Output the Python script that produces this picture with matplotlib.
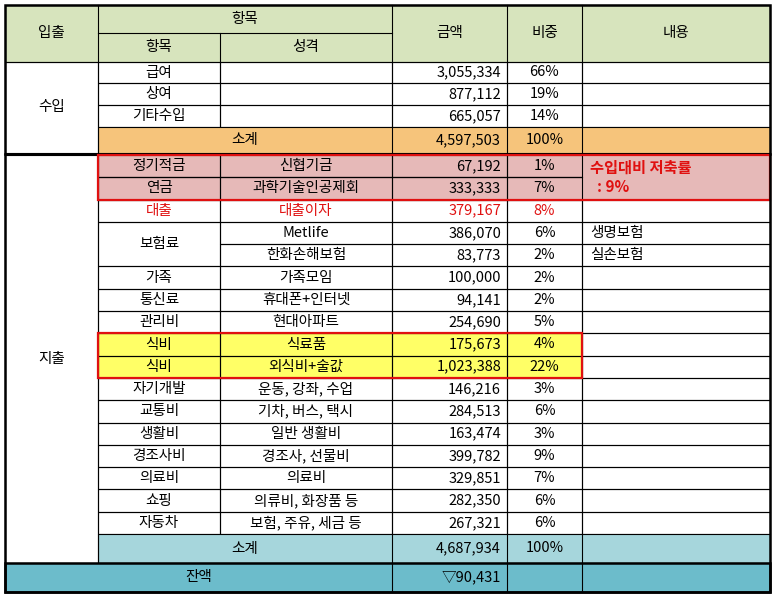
import matplotlib
matplotlib.use("Agg")
import matplotlib.pyplot as plt
from matplotlib.patches import Rectangle

plt.rcParams["font.family"] = ["Noto Sans CJK KR", "Noto Sans CJK JP", "Noto Sans CJK SC", "DejaVu Sans"]

income_items = ["급여", "상여", "기타수입"]
income_amounts = ["3,055,334", "877,112", "665,057"]
income_shares = ["66%", "19%", "14%"]
income_total = ["4,597,503", "100%"]

exp_items = ["정기적금", "연금", "대출", "보험료", None, "가족", "통신료", "관리비", "식비", "식비",
             "자기개발", "교통비", "생활비", "경조사비", "의료비", "쇼핑", "자동차"]
exp_kinds = ["신협기금", "과학기술인공제회", "대출이자", "Metlife", "한화손해보험", "가족모임",
             "휴대폰+인터넷", "현대아파트", "식료품", "외식비+술값", "운동, 강좌, 수업",
             "기차, 버스, 택시", "일반 생활비", "경조사, 선물비", "의료비", "의류비, 화장품 등",
             "보험, 주유, 세금 등"]
exp_amounts = ["67,192", "333,333", "379,167", "386,070", "83,773", "100,000", "94,141",
               "254,690", "175,673", "1,023,388", "146,216", "284,513", "163,474", "399,782",
               "329,851", "282,350", "267,321"]
exp_shares = ["1%", "7%", "8%", "6%", "2%", "2%", "2%", "5%", "4%", "22%", "3%", "6%", "3%",
              "9%", "7%", "6%", "6%"]
exp_notes = {3: "생명보험", 4: "실손보험"}
exp_total = ["4,687,934", "100%"]
balance = "▽90,431"
saving_note = "수입대비 저축률\n  : 9%"

# layout
X = [5, 98, 220, 392, 507, 582, 770]
GREEN, ORANGE, PINK, YELLOW = "#d7e4bd", "#f6c47b", "#e6b9b8", "#ffff66"
TEAL_L, TEAL_D, RED = "#a6d6dc", "#6cbccb", "#e01010"

fig = plt.figure(figsize=(7.77, 5.96), dpi=100)
ax = fig.add_axes([0, 0, 1, 1])
ax.set_xlim(0, 777); ax.set_ylim(596, 0); ax.axis("off")

def rect(x0, y0, x1, y1, fc="none", ec="black", lw=0.8, z=1):
    ax.add_patch(Rectangle((x0, y0), x1 - x0, y1 - y0, facecolor=fc, edgecolor=ec, lw=lw, zorder=z))

def txt(x, y, s, ha="center", color="black", size=10.5, **kw):
    ax.text(x, y, s, ha=ha, va="center", color=color, fontsize=size, zorder=5, **kw)

def cx(i, j=None):
    return (X[i] + X[j if j is not None else i + 1]) / 2

# header
rect(X[0], 5, X[6], 62, fc=GREEN, lw=0.8)
for i in [1, 3, 4, 5]:
    ax.plot([X[i], X[i]], [5, 62], color="black", lw=0.8)
ax.plot([X[1], X[3]], [33, 33], color="black", lw=0.8)
ax.plot([X[2], X[2]], [33, 62], color="black", lw=0.8)
txt(cx(0), 33, "입출"); txt(cx(1, 3), 19, "항목"); txt(cx(1), 47, "항목"); txt(cx(2), 47, "성격")
txt(cx(3), 33, "금액"); txt(cx(4), 33, "비중"); txt(cx(5), 33, "내용")

# income
iy = [62, 83, 105, 127, 153]
for r in range(3):
    y0, y1 = iy[r], iy[r + 1]
    for i in range(1, 6):
        rect(X[i], y0, X[i + 1], y1)
    ym = (y0 + y1) / 2
    txt(cx(1), ym, income_items[r]); txt(X[4] - 6, ym, income_amounts[r], ha="right")
    txt(cx(4), ym, income_shares[r])
rect(X[1], iy[3], X[6], iy[4], fc=ORANGE)
for i in [3, 4, 5]:
    ax.plot([X[i], X[i]], [iy[3], iy[4]], color="black", lw=0.8)
ym = (iy[3] + iy[4]) / 2
txt(cx(1, 3), ym, "소계"); txt(X[4] - 6, ym, income_total[0], ha="right"); txt(cx(4), ym, income_total[1])
rect(X[0], iy[0], X[1], iy[4])
txt(cx(0), (iy[0] + iy[4]) / 2, "수입")

# expenses
y_start, rh = 155, (534 - 155) / 17
ey = [y_start + k * rh for k in range(18)]
for r in range(17):
    y0, y1 = ey[r], ey[r + 1]
    ym = (y0 + y1) / 2
    fc = PINK if r in (0, 1) else YELLOW if r in (8, 9) else "white"
    x_end = X[6] if r in (0, 1) else X[5]
    rect(X[1], y0, x_end, y1, fc=fc, ec="none", z=0)
    for i in [2, 3, 4]:
        rect(X[i], y0, X[i + 1], y1)
    if r not in (0, 1):
        rect(X[5], y0, X[6], y1)
    if r != 4:
        rect(X[1], y0, X[2], y1 if r != 3 else ey[5])
    color = RED if r == 2 else "black"
    if exp_items[r]:
        yy = ym if r != 3 else ey[4]
        txt(cx(1), yy, exp_items[r], color=color)
    txt(cx(2), ym, exp_kinds[r], color=color)
    txt(X[4] - 6, ym, exp_amounts[r], ha="right", color=color)
    txt(cx(4), ym, exp_shares[r], color=color)
    if r in exp_notes:
        txt(X[5] + 8, ym, exp_notes[r], ha="left")
rect(X[1], ey[0], X[6], ey[2], ec=RED, lw=1.6, z=3)
ax.plot([X[1], X[5]], [ey[1], ey[1]], color="black", lw=0.8, zorder=2)
txt(X[5] + 8, ey[1], saving_note, ha="left", color=RED, size=11, fontweight="bold")
rect(X[1], ey[8], X[5], ey[10], ec=RED, lw=1.6, z=3)

rect(X[1], 534, X[6], 563, fc=TEAL_L)
for i in [3, 4, 5]:
    ax.plot([X[i], X[i]], [534, 563], color="black", lw=0.8)
txt(cx(1, 3), 548.5, "소계"); txt(X[4] - 6, 548.5, exp_total[0], ha="right"); txt(cx(4), 548.5, exp_total[1])
rect(X[0], 155, X[1], 563)
txt(cx(0), 359, "지출")
ax.plot([X[0], X[6]], [154, 154], color="black", lw=1.8)

# balance
rect(X[0], 563, X[6], 592, fc=TEAL_D, lw=1.8)
for i in [3, 4, 5]:
    ax.plot([X[i], X[i]], [563, 592], color="black", lw=0.8)
txt(cx(0, 3), 577.5, "잔액"); txt(X[4] - 6, 577.5, balance, ha="right")

rect(X[0], 5, X[6], 592, lw=1.8, z=4)
fig.savefig("out.png", dpi=100)
